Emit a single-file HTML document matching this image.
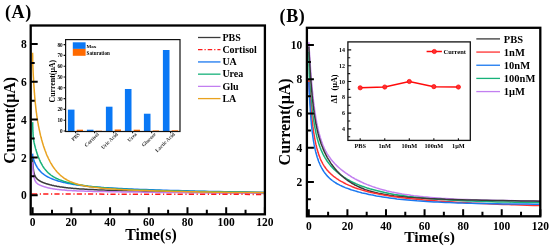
<!DOCTYPE html>
<html><head><meta charset="utf-8"><style>
html,body{margin:0;padding:0;background:#fff;width:550px;height:251px;overflow:hidden}
svg{display:block}
text{font-family:'Liberation Serif', 'DejaVu Serif', serif;font-weight:bold;fill:#000}
</style></head><body>
<svg width="550" height="251" viewBox="0 0 550 251">
<defs>
<clipPath id="clipA"><rect x="30.7" y="25.5" width="234.20" height="188.80"/></clipPath>
<clipPath id="clipB"><rect x="306.9" y="27.8" width="233.40" height="188.50"/></clipPath>
</defs>
<rect width="550" height="251" fill="#fff"/>
<g clip-path="url(#clipA)" fill="none" stroke-width="1.5">
<path d="M32.6,158.3 L32.7,158.7 L32.7,159.1 L32.7,159.5 L32.7,159.9 L32.7,160.3 L32.7,160.7 L32.8,161.1 L32.8,161.5 L32.8,161.9 L32.8,162.3 L32.8,162.7 L32.9,163.1 L32.9,163.4 L32.9,163.8 L32.9,164.2 L33.0,164.6 L33.0,164.9 L33.0,165.3 L33.0,165.6 L33.1,166.0 L33.1,166.3 L33.1,166.7 L33.1,167.0 L33.2,167.4 L33.2,167.7 L33.2,168.0 L33.3,168.3 L33.3,168.6 L33.3,169.0 L33.4,169.3 L33.4,169.6 L33.5,169.8 L33.5,170.1 L33.5,170.4 L33.6,170.7 L33.6,170.9 L33.7,171.2 L33.7,171.5 L33.7,171.7 L33.8,172.0 L33.8,172.2 L33.9,172.4 L33.9,172.7 L34.0,172.9 L34.0,173.1 L34.1,173.3 L34.2,173.6 L34.2,173.8 L34.3,174.0 L34.3,174.2 L34.4,174.4 L34.5,174.6 L34.5,174.8 L34.6,174.9 L34.7,175.1 L34.7,175.3 L34.8,175.5 L34.9,175.7 L35.0,175.8 L35.1,176.0 L35.1,176.2 L35.2,176.3 L35.3,176.5 L35.4,176.7 L35.5,176.8 L35.6,177.0 L35.7,177.2 L35.8,177.3 L35.9,177.5 L36.0,177.6 L36.1,177.8 L36.2,177.9 L36.3,178.1 L36.5,178.2 L36.6,178.4 L36.7,178.5 L36.8,178.6 L37.0,178.8 L37.1,178.9 L37.2,179.1 L37.4,179.2 L37.5,179.3 L37.7,179.5 L37.8,179.6 L38.0,179.7 L38.2,179.9 L38.3,180.0 L38.5,180.1 L38.7,180.2 L38.9,180.4 L39.1,180.5 L39.3,180.6 L39.5,180.7 L39.7,180.9 L39.9,181.0 L40.1,181.1 L40.3,181.2 L40.5,181.4 L40.8,181.5 L41.0,181.6 L41.3,181.7 L41.5,181.8 L41.8,182.0 L42.1,182.1 L42.3,182.2 L42.6,182.3 L42.9,182.5 L43.2,182.6 L43.5,182.7 L43.8,182.8 L44.2,182.9 L44.5,183.1 L44.9,183.2 L45.2,183.3 L45.6,183.5 L46.0,183.6 L46.3,183.7 L46.7,183.8 L47.1,184.0 L47.6,184.1 L48.0,184.2 L48.4,184.3 L48.9,184.5 L49.4,184.6 L49.8,184.7 L50.3,184.9 L50.8,185.0 L51.4,185.1 L51.9,185.3 L52.4,185.4 L53.0,185.5 L53.6,185.6 L54.2,185.8 L54.8,185.9 L55.4,186.0 L56.1,186.1 L56.7,186.3 L57.4,186.4 L58.1,186.5 L58.9,186.6 L59.6,186.8 L60.4,186.9 L61.1,187.0 L62.0,187.1 L62.8,187.2 L63.6,187.3 L64.5,187.5 L65.4,187.6 L66.3,187.7 L67.3,187.8 L68.3,187.9 L69.3,188.0 L70.3,188.1 L71.4,188.2 L72.5,188.3 L73.6,188.4 L74.7,188.5 L75.9,188.6 L77.1,188.7 L78.4,188.8 L79.7,188.9 L81.0,189.0 L82.3,189.0 L83.7,189.1 L85.2,189.2 L86.6,189.3 L88.2,189.4 L89.7,189.5 L91.3,189.5 L93.0,189.6 L94.6,189.7 L96.4,189.8 L98.2,189.9 L100.0,189.9 L101.9,190.0 L103.8,190.1 L105.8,190.2 L107.9,190.2 L110.0,190.3 L112.1,190.4 L114.4,190.5 L116.6,190.5 L119.0,190.6 L121.4,190.7 L123.9,190.7 L126.4,190.8 L129.0,190.9 L131.7,190.9 L134.5,191.0 L137.3,191.1 L140.3,191.2 L143.3,191.2 L146.3,191.3 L149.5,191.4 L152.8,191.4 L156.1,191.5 L159.6,191.6 L163.1,191.6 L166.7,191.7 L170.5,191.7 L174.3,191.8 L178.3,191.9 L182.3,191.9 L186.5,192.0 L190.8,192.1 L195.2,192.1 L199.7,192.2 L204.4,192.2 L209.1,192.3 L214.1,192.3 L219.1,192.4 L224.3,192.4 L229.6,192.5 L235.1,192.5 L240.8,192.6 L246.5,192.6 L252.5,192.7 L258.6,192.7 L264.9,192.8" stroke="#3a3a3a"/>
<path d="M32.6,162.1 L32.7,162.7 L32.7,163.2 L32.7,163.8 L32.7,164.3 L32.7,164.8 L32.7,165.3 L32.8,165.7 L32.8,166.2 L32.8,166.7 L32.8,167.1 L32.8,167.5 L32.9,167.9 L32.9,168.3 L32.9,168.7 L32.9,169.1 L33.0,169.5 L33.0,169.9 L33.0,170.2 L33.0,170.5 L33.1,170.9 L33.1,171.2 L33.1,171.5 L33.1,171.8 L33.2,172.1 L33.2,172.4 L33.2,172.7 L33.3,173.0 L33.3,173.3 L33.3,173.6 L33.4,173.8 L33.4,174.1 L33.5,174.3 L33.5,174.6 L33.5,174.9 L33.6,175.1 L33.6,175.4 L33.7,175.6 L33.7,175.8 L33.7,176.1 L33.8,176.3 L33.8,176.6 L33.9,176.8 L33.9,177.0 L34.0,177.2 L34.0,177.5 L34.1,177.7 L34.2,177.9 L34.2,178.1 L34.3,178.3 L34.3,178.6 L34.4,178.8 L34.5,179.0 L34.5,179.2 L34.6,179.4 L34.7,179.6 L34.7,179.8 L34.8,180.0 L34.9,180.2 L35.0,180.3 L35.1,180.5 L35.1,180.7 L35.2,180.9 L35.3,181.1 L35.4,181.2 L35.5,181.4 L35.6,181.6 L35.7,181.7 L35.8,181.9 L35.9,182.0 L36.0,182.2 L36.1,182.3 L36.2,182.5 L36.3,182.6 L36.5,182.7 L36.6,182.9 L36.7,183.0 L36.8,183.1 L37.0,183.2 L37.1,183.4 L37.2,183.5 L37.4,183.6 L37.5,183.7 L37.7,183.8 L37.8,183.9 L38.0,184.0 L38.2,184.2 L38.3,184.3 L38.5,184.4 L38.7,184.5 L38.9,184.6 L39.1,184.7 L39.3,184.8 L39.5,184.9 L39.7,185.0 L39.9,185.1 L40.1,185.2 L40.3,185.3 L40.5,185.4 L40.8,185.5 L41.0,185.6 L41.3,185.7 L41.5,185.8 L41.8,185.9 L42.1,186.0 L42.3,186.1 L42.6,186.2 L42.9,186.3 L43.2,186.4 L43.5,186.5 L43.8,186.6 L44.2,186.7 L44.5,186.8 L44.9,186.9 L45.2,187.0 L45.6,187.1 L46.0,187.2 L46.3,187.3 L46.7,187.4 L47.1,187.6 L47.6,187.7 L48.0,187.8 L48.4,187.9 L48.9,188.0 L49.4,188.1 L49.8,188.2 L50.3,188.3 L50.8,188.4 L51.4,188.5 L51.9,188.6 L52.4,188.7 L53.0,188.8 L53.6,188.9 L54.2,189.0 L54.8,189.1 L55.4,189.2 L56.1,189.2 L56.7,189.3 L57.4,189.4 L58.1,189.5 L58.9,189.6 L59.6,189.7 L60.4,189.8 L61.1,189.8 L62.0,189.9 L62.8,190.0 L63.6,190.1 L64.5,190.1 L65.4,190.2 L66.3,190.3 L67.3,190.4 L68.3,190.4 L69.3,190.5 L70.3,190.5 L71.4,190.6 L72.5,190.7 L73.6,190.7 L74.7,190.8 L75.9,190.8 L77.1,190.9 L78.4,190.9 L79.7,191.0 L81.0,191.0 L82.3,191.1 L83.7,191.1 L85.2,191.2 L86.6,191.2 L88.2,191.2 L89.7,191.3 L91.3,191.3 L93.0,191.4 L94.6,191.4 L96.4,191.4 L98.2,191.5 L100.0,191.5 L101.9,191.5 L103.8,191.6 L105.8,191.6 L107.9,191.7 L110.0,191.7 L112.1,191.7 L114.4,191.8 L116.6,191.8 L119.0,191.8 L121.4,191.9 L123.9,191.9 L126.4,191.9 L129.0,192.0 L131.7,192.0 L134.5,192.0 L137.3,192.1 L140.3,192.1 L143.3,192.2 L146.3,192.2 L149.5,192.2 L152.8,192.3 L156.1,192.3 L159.6,192.4 L163.1,192.4 L166.7,192.4 L170.5,192.5 L174.3,192.5 L178.3,192.6 L182.3,192.6 L186.5,192.7 L190.8,192.7 L195.2,192.7 L199.7,192.8 L204.4,192.8 L209.1,192.9 L214.1,192.9 L219.1,193.0 L224.3,193.0 L229.6,193.1 L235.1,193.1 L240.8,193.2 L246.5,193.2 L252.5,193.3 L258.6,193.3 L264.9,193.4" stroke="#c27ff0"/>
<path d="M32.6,153.6 L32.7,154.7 L32.7,155.5 L32.7,156.0 L32.7,156.3 L32.7,156.6 L32.7,156.8 L32.8,156.9 L32.8,157.1 L32.8,157.1 L32.8,157.2 L32.8,157.3 L32.9,157.4 L32.9,157.5 L32.9,157.5 L32.9,157.6 L33.0,157.7 L33.0,157.8 L33.0,157.8 L33.0,157.9 L33.1,158.0 L33.1,158.1 L33.1,158.2 L33.1,158.3 L33.2,158.4 L33.2,158.5 L33.2,158.6 L33.3,158.7 L33.3,158.8 L33.3,158.9 L33.4,159.0 L33.4,159.1 L33.5,159.2 L33.5,159.3 L33.5,159.4 L33.6,159.5 L33.6,159.6 L33.7,159.7 L33.7,159.9 L33.7,160.0 L33.8,160.1 L33.8,160.3 L33.9,160.4 L33.9,160.5 L34.0,160.7 L34.0,160.8 L34.1,160.9 L34.2,161.1 L34.2,161.2 L34.3,161.4 L34.3,161.5 L34.4,161.7 L34.5,161.9 L34.5,162.0 L34.6,162.2 L34.7,162.3 L34.7,162.5 L34.8,162.7 L34.9,162.9 L35.0,163.0 L35.1,163.2 L35.1,163.4 L35.2,163.6 L35.3,163.8 L35.4,164.0 L35.5,164.2 L35.6,164.4 L35.7,164.6 L35.8,164.8 L35.9,165.0 L36.0,165.2 L36.1,165.4 L36.2,165.6 L36.3,165.8 L36.5,166.0 L36.6,166.2 L36.7,166.4 L36.8,166.7 L37.0,166.9 L37.1,167.1 L37.2,167.3 L37.4,167.6 L37.5,167.8 L37.7,168.0 L37.8,168.2 L38.0,168.5 L38.2,168.7 L38.3,168.9 L38.5,169.2 L38.7,169.4 L38.9,169.6 L39.1,169.9 L39.3,170.1 L39.5,170.4 L39.7,170.6 L39.9,170.8 L40.1,171.1 L40.3,171.3 L40.5,171.6 L40.8,171.8 L41.0,172.0 L41.3,172.3 L41.5,172.5 L41.8,172.8 L42.1,173.0 L42.3,173.2 L42.6,173.5 L42.9,173.7 L43.2,174.0 L43.5,174.2 L43.8,174.4 L44.2,174.7 L44.5,174.9 L44.9,175.1 L45.2,175.4 L45.6,175.6 L46.0,175.8 L46.3,176.1 L46.7,176.3 L47.1,176.5 L47.6,176.8 L48.0,177.0 L48.4,177.2 L48.9,177.4 L49.4,177.7 L49.8,177.9 L50.3,178.1 L50.8,178.3 L51.4,178.6 L51.9,178.8 L52.4,179.0 L53.0,179.2 L53.6,179.4 L54.2,179.7 L54.8,179.9 L55.4,180.1 L56.1,180.3 L56.7,180.5 L57.4,180.7 L58.1,181.0 L58.9,181.2 L59.6,181.4 L60.4,181.6 L61.1,181.8 L62.0,182.0 L62.8,182.2 L63.6,182.4 L64.5,182.6 L65.4,182.8 L66.3,183.0 L67.3,183.2 L68.3,183.4 L69.3,183.6 L70.3,183.8 L71.4,184.0 L72.5,184.2 L73.6,184.4 L74.7,184.6 L75.9,184.7 L77.1,184.9 L78.4,185.1 L79.7,185.3 L81.0,185.4 L82.3,185.6 L83.7,185.8 L85.2,185.9 L86.6,186.1 L88.2,186.3 L89.7,186.4 L91.3,186.6 L93.0,186.7 L94.6,186.9 L96.4,187.0 L98.2,187.2 L100.0,187.3 L101.9,187.4 L103.8,187.6 L105.8,187.7 L107.9,187.8 L110.0,188.0 L112.1,188.1 L114.4,188.2 L116.6,188.3 L119.0,188.5 L121.4,188.6 L123.9,188.7 L126.4,188.8 L129.0,188.9 L131.7,189.0 L134.5,189.2 L137.3,189.3 L140.3,189.4 L143.3,189.5 L146.3,189.6 L149.5,189.7 L152.8,189.8 L156.1,190.0 L159.6,190.1 L163.1,190.2 L166.7,190.3 L170.5,190.4 L174.3,190.5 L178.3,190.6 L182.3,190.7 L186.5,190.8 L190.8,190.9 L195.2,191.1 L199.7,191.2 L204.4,191.3 L209.1,191.4 L214.1,191.5 L219.1,191.6 L224.3,191.7 L229.6,191.8 L235.1,191.9 L240.8,192.0 L246.5,192.1 L252.5,192.2 L258.6,192.3 L264.9,192.4" stroke="#1a78f0"/>
<path d="M32.6,122.1 L32.7,122.9 L32.7,123.6 L32.7,124.4 L32.7,125.1 L32.7,125.8 L32.7,126.4 L32.8,127.1 L32.8,127.8 L32.8,128.4 L32.8,129.0 L32.8,129.6 L32.9,130.2 L32.9,130.8 L32.9,131.3 L32.9,131.8 L33.0,132.4 L33.0,132.9 L33.0,133.3 L33.0,133.8 L33.1,134.3 L33.1,134.7 L33.1,135.1 L33.1,135.5 L33.2,135.9 L33.2,136.3 L33.2,136.7 L33.3,137.0 L33.3,137.4 L33.3,137.7 L33.4,138.0 L33.4,138.3 L33.5,138.6 L33.5,138.9 L33.5,139.2 L33.6,139.5 L33.6,139.8 L33.7,140.1 L33.7,140.4 L33.7,140.6 L33.8,140.9 L33.8,141.2 L33.9,141.4 L33.9,141.7 L34.0,141.9 L34.0,142.2 L34.1,142.5 L34.2,142.7 L34.2,143.0 L34.3,143.3 L34.3,143.6 L34.4,143.8 L34.5,144.1 L34.5,144.4 L34.6,144.7 L34.7,145.0 L34.7,145.3 L34.8,145.6 L34.9,145.9 L35.0,146.2 L35.1,146.5 L35.1,146.8 L35.2,147.1 L35.3,147.5 L35.4,147.8 L35.5,148.2 L35.6,148.5 L35.7,148.9 L35.8,149.2 L35.9,149.6 L36.0,149.9 L36.1,150.3 L36.2,150.7 L36.3,151.1 L36.5,151.5 L36.6,151.9 L36.7,152.3 L36.8,152.7 L37.0,153.1 L37.1,153.5 L37.2,153.9 L37.4,154.3 L37.5,154.8 L37.7,155.2 L37.8,155.6 L38.0,156.1 L38.2,156.5 L38.3,157.0 L38.5,157.4 L38.7,157.9 L38.9,158.3 L39.1,158.8 L39.3,159.3 L39.5,159.7 L39.7,160.2 L39.9,160.7 L40.1,161.1 L40.3,161.6 L40.5,162.1 L40.8,162.5 L41.0,163.0 L41.3,163.5 L41.5,164.0 L41.8,164.4 L42.1,164.9 L42.3,165.4 L42.6,165.9 L42.9,166.3 L43.2,166.8 L43.5,167.3 L43.8,167.7 L44.2,168.2 L44.5,168.6 L44.9,169.1 L45.2,169.6 L45.6,170.0 L46.0,170.4 L46.3,170.9 L46.7,171.3 L47.1,171.7 L47.6,172.2 L48.0,172.6 L48.4,173.0 L48.9,173.4 L49.4,173.8 L49.8,174.2 L50.3,174.6 L50.8,175.0 L51.4,175.4 L51.9,175.7 L52.4,176.1 L53.0,176.5 L53.6,176.8 L54.2,177.2 L54.8,177.5 L55.4,177.9 L56.1,178.2 L56.7,178.5 L57.4,178.8 L58.1,179.1 L58.9,179.5 L59.6,179.8 L60.4,180.1 L61.1,180.3 L62.0,180.6 L62.8,180.9 L63.6,181.2 L64.5,181.5 L65.4,181.7 L66.3,182.0 L67.3,182.3 L68.3,182.5 L69.3,182.8 L70.3,183.0 L71.4,183.3 L72.5,183.5 L73.6,183.7 L74.7,184.0 L75.9,184.2 L77.1,184.4 L78.4,184.7 L79.7,184.9 L81.0,185.1 L82.3,185.3 L83.7,185.5 L85.2,185.7 L86.6,185.9 L88.2,186.2 L89.7,186.4 L91.3,186.5 L93.0,186.7 L94.6,186.9 L96.4,187.1 L98.2,187.3 L100.0,187.5 L101.9,187.7 L103.8,187.8 L105.8,188.0 L107.9,188.2 L110.0,188.3 L112.1,188.5 L114.4,188.6 L116.6,188.8 L119.0,188.9 L121.4,189.1 L123.9,189.2 L126.4,189.3 L129.0,189.5 L131.7,189.6 L134.5,189.7 L137.3,189.9 L140.3,190.0 L143.3,190.1 L146.3,190.2 L149.5,190.3 L152.8,190.4 L156.1,190.5 L159.6,190.6 L163.1,190.7 L166.7,190.8 L170.5,190.9 L174.3,191.0 L178.3,191.1 L182.3,191.2 L186.5,191.3 L190.8,191.4 L195.2,191.4 L199.7,191.5 L204.4,191.6 L209.1,191.7 L214.1,191.8 L219.1,191.8 L224.3,191.9 L229.6,192.0 L235.1,192.1 L240.8,192.1 L246.5,192.2 L252.5,192.3 L258.6,192.4 L264.9,192.4" stroke="#17b27a"/>
<path d="M32.6,52.7 L32.7,56.0 L32.7,58.3 L32.7,60.0 L32.7,61.3 L32.7,62.3 L32.7,63.1 L32.8,63.7 L32.8,64.3 L32.8,64.9 L32.8,65.4 L32.8,65.9 L32.9,66.4 L32.9,66.9 L32.9,67.4 L32.9,67.9 L33.0,68.4 L33.0,69.0 L33.0,69.5 L33.0,70.0 L33.1,70.6 L33.1,71.2 L33.1,71.7 L33.1,72.3 L33.2,72.9 L33.2,73.5 L33.2,74.2 L33.3,74.8 L33.3,75.4 L33.3,76.1 L33.4,76.7 L33.4,77.4 L33.5,78.1 L33.5,78.7 L33.5,79.4 L33.6,80.1 L33.6,80.9 L33.7,81.6 L33.7,82.3 L33.7,83.1 L33.8,83.8 L33.8,84.6 L33.9,85.3 L33.9,86.1 L34.0,86.9 L34.0,87.7 L34.1,88.5 L34.2,89.3 L34.2,90.1 L34.3,90.9 L34.3,91.7 L34.4,92.6 L34.5,93.4 L34.5,94.3 L34.6,95.1 L34.7,96.0 L34.7,96.8 L34.8,97.7 L34.9,98.6 L35.0,99.5 L35.1,100.3 L35.1,101.2 L35.2,102.1 L35.3,103.0 L35.4,103.9 L35.5,104.8 L35.6,105.7 L35.7,106.6 L35.8,107.5 L35.9,108.5 L36.0,109.4 L36.1,110.3 L36.2,111.2 L36.3,112.1 L36.5,113.0 L36.6,114.0 L36.7,114.9 L36.8,115.8 L37.0,116.7 L37.1,117.6 L37.2,118.6 L37.4,119.5 L37.5,120.4 L37.7,121.4 L37.8,122.3 L38.0,123.2 L38.2,124.1 L38.3,125.1 L38.5,126.0 L38.7,126.9 L38.9,127.9 L39.1,128.8 L39.3,129.8 L39.5,130.7 L39.7,131.6 L39.9,132.6 L40.1,133.5 L40.3,134.5 L40.5,135.4 L40.8,136.4 L41.0,137.3 L41.3,138.3 L41.5,139.2 L41.8,140.2 L42.1,141.2 L42.3,142.1 L42.6,143.1 L42.9,144.0 L43.2,145.0 L43.5,146.0 L43.8,146.9 L44.2,147.9 L44.5,148.9 L44.9,149.9 L45.2,150.8 L45.6,151.8 L46.0,152.8 L46.3,153.7 L46.7,154.7 L47.1,155.6 L47.6,156.6 L48.0,157.5 L48.4,158.5 L48.9,159.4 L49.4,160.3 L49.8,161.3 L50.3,162.2 L50.8,163.1 L51.4,164.0 L51.9,164.9 L52.4,165.8 L53.0,166.6 L53.6,167.5 L54.2,168.3 L54.8,169.1 L55.4,169.9 L56.1,170.7 L56.7,171.5 L57.4,172.3 L58.1,173.0 L58.9,173.8 L59.6,174.5 L60.4,175.2 L61.1,175.9 L62.0,176.5 L62.8,177.2 L63.6,177.8 L64.5,178.4 L65.4,179.0 L66.3,179.5 L67.3,180.1 L68.3,180.6 L69.3,181.1 L70.3,181.6 L71.4,182.0 L72.5,182.5 L73.6,182.9 L74.7,183.3 L75.9,183.7 L77.1,184.1 L78.4,184.4 L79.7,184.8 L81.0,185.1 L82.3,185.4 L83.7,185.7 L85.2,186.0 L86.6,186.3 L88.2,186.5 L89.7,186.8 L91.3,187.0 L93.0,187.2 L94.6,187.4 L96.4,187.6 L98.2,187.8 L100.0,188.0 L101.9,188.2 L103.8,188.4 L105.8,188.5 L107.9,188.7 L110.0,188.8 L112.1,189.0 L114.4,189.1 L116.6,189.3 L119.0,189.4 L121.4,189.5 L123.9,189.7 L126.4,189.8 L129.0,189.9 L131.7,190.0 L134.5,190.2 L137.3,190.3 L140.3,190.4 L143.3,190.5 L146.3,190.6 L149.5,190.7 L152.8,190.8 L156.1,190.9 L159.6,191.0 L163.1,191.1 L166.7,191.2 L170.5,191.3 L174.3,191.4 L178.3,191.5 L182.3,191.6 L186.5,191.7 L190.8,191.8 L195.2,191.8 L199.7,191.9 L204.4,192.0 L209.1,192.1 L214.1,192.2 L219.1,192.2 L224.3,192.3 L229.6,192.4 L235.1,192.4 L240.8,192.5 L246.5,192.5 L252.5,192.6 L258.6,192.6 L264.9,192.7" stroke="#e9a21f"/>
<path d="M31.5,193.9 H37.2" stroke="#ff1a1a" stroke-width="1.5"/>
<path d="M39.8,193.9 L120,194.2 L265,194.4" stroke="#ff1a1a" stroke-width="1.5" stroke-dasharray="1.2,2.2,5.2,2.6"/>
</g>
<rect x="30.7" y="25.5" width="234.20" height="188.80" fill="none" stroke="#000" stroke-width="2.3"/>
<path d="M30.7,195.20 h7 M30.7,176.30 h4 M30.7,157.40 h7 M30.7,138.50 h4 M30.7,119.60 h7 M30.7,100.70 h4 M30.7,81.80 h7 M30.7,62.90 h4 M30.7,44.00 h7 M32.64,214.3 v-7 M52.00,214.3 v-4.5 M71.35,214.3 v-7 M90.70,214.3 v-4.5 M110.06,214.3 v-7 M129.42,214.3 v-4.5 M148.77,214.3 v-7 M168.12,214.3 v-4.5 M187.48,214.3 v-7 M206.83,214.3 v-4.5 M226.19,214.3 v-7 M245.55,214.3 v-4.5 M264.90,214.3 v-7" stroke="#000" stroke-width="2" fill="none"/>
<text x="26.80" y="199.30" font-size="11.5" text-anchor="end" >0</text>
<text x="26.80" y="161.50" font-size="11.5" text-anchor="end" >2</text>
<text x="26.80" y="123.70" font-size="11.5" text-anchor="end" >4</text>
<text x="26.80" y="85.90" font-size="11.5" text-anchor="end" >6</text>
<text x="26.80" y="48.10" font-size="11.5" text-anchor="end" >8</text>
<text x="32.64" y="226.20" font-size="11.5" text-anchor="middle" >0</text>
<text x="71.35" y="226.20" font-size="11.5" text-anchor="middle" >20</text>
<text x="110.06" y="226.20" font-size="11.5" text-anchor="middle" >40</text>
<text x="148.77" y="226.20" font-size="11.5" text-anchor="middle" >60</text>
<text x="187.48" y="226.20" font-size="11.5" text-anchor="middle" >80</text>
<text x="226.19" y="226.20" font-size="11.5" text-anchor="middle" >100</text>
<text x="264.90" y="226.20" font-size="11.5" text-anchor="middle" >120</text>
<text x="151.00" y="239.70" font-size="15.8" text-anchor="middle" >Time(s)</text>
<text x="0" y="0" font-size="16" text-anchor="middle" transform="translate(14.9,120.3) rotate(-90)">Current(μA)</text>
<text x="18.40" y="17.50" font-size="18" text-anchor="middle" letter-spacing="0.6">(A)</text>
<path d="M198,37.50 H220.5" stroke="#3a3a3a" stroke-width="1.3"/>
<text x="222.40" y="40.80" font-size="10" text-anchor="start" >PBS</text>
<path d="M198,49.72 H220.5" stroke="#ff1a1a" stroke-width="1.3" stroke-dasharray="4.5,2,1.2,2"/>
<text x="222.40" y="53.02" font-size="10" text-anchor="start" >Cortisol</text>
<path d="M198,61.94 H220.5" stroke="#1a78f0" stroke-width="1.3"/>
<text x="222.40" y="65.24" font-size="10" text-anchor="start" >UA</text>
<path d="M198,74.16 H220.5" stroke="#17b27a" stroke-width="1.3"/>
<text x="222.40" y="77.46" font-size="10" text-anchor="start" >Urea</text>
<path d="M198,86.38 H220.5" stroke="#c27ff0" stroke-width="1.3"/>
<text x="222.40" y="89.68" font-size="10" text-anchor="start" >Glu</text>
<path d="M198,98.60 H220.5" stroke="#e9a21f" stroke-width="1.3"/>
<text x="222.40" y="101.90" font-size="10" text-anchor="start" >LA</text>
<rect x="67.90" y="109.62" width="6.6" height="21.38" fill="#0a78f5"/>
<rect x="76.70" y="129.70" width="6.3" height="1.30" fill="#ff6a00"/>
<text x="0" y="0" font-size="5.2" text-anchor="end" fill="#333" style="fill:#333" transform="translate(80.20,134.60) rotate(-45)">PBS</text>
<rect x="86.90" y="129.70" width="6.6" height="1.30" fill="#0a78f5"/>
<rect x="95.70" y="130.68" width="6.3" height="0.32" fill="#ff6a00"/>
<text x="0" y="0" font-size="5.2" text-anchor="end" fill="#333" style="fill:#333" transform="translate(99.20,134.60) rotate(-45)">Cortisol</text>
<rect x="105.90" y="106.70" width="6.6" height="24.30" fill="#0a78f5"/>
<rect x="114.70" y="129.49" width="6.3" height="1.51" fill="#ff6a00"/>
<text x="0" y="0" font-size="5.2" text-anchor="end" fill="#333" style="fill:#333" transform="translate(118.20,134.60) rotate(-45)">Uric Acid</text>
<rect x="124.90" y="88.99" width="6.6" height="42.01" fill="#0a78f5"/>
<rect x="133.70" y="129.70" width="6.3" height="1.30" fill="#ff6a00"/>
<text x="0" y="0" font-size="5.2" text-anchor="end" fill="#333" style="fill:#333" transform="translate(137.20,134.60) rotate(-45)">Urea</text>
<rect x="143.90" y="113.72" width="6.6" height="17.28" fill="#0a78f5"/>
<rect x="152.70" y="130.46" width="6.3" height="0.54" fill="#ff6a00"/>
<text x="0" y="0" font-size="5.2" text-anchor="end" fill="#333" style="fill:#333" transform="translate(156.20,134.60) rotate(-45)">Glucose</text>
<rect x="162.90" y="50.00" width="6.6" height="81.00" fill="#0a78f5"/>
<rect x="171.70" y="130.35" width="6.3" height="0.65" fill="#ff6a00"/>
<text x="0" y="0" font-size="5.2" text-anchor="end" fill="#333" style="fill:#333" transform="translate(175.20,134.60) rotate(-45)">Lactic Acid</text>
<rect x="65.6" y="39.6" width="114.40" height="91.90" fill="none" stroke="#111" stroke-width="1.2"/>
<path d="M65.6,131.00 h-2 M65.6,120.20 h-2 M65.6,109.40 h-2 M65.6,98.60 h-2 M65.6,87.80 h-2 M65.6,77.00 h-2 M65.6,66.20 h-2 M65.6,55.40 h-2 M65.6,44.60 h-2 M75.60,131.5 v1.8 M94.60,131.5 v1.8 M113.60,131.5 v1.8 M132.60,131.5 v1.8 M151.60,131.5 v1.8 M170.60,131.5 v1.8" stroke="#111" stroke-width="1.1" fill="none"/>
<text x="62.60" y="132.90" font-size="5.2" text-anchor="end" >0</text>
<text x="62.60" y="122.10" font-size="5.2" text-anchor="end" >10</text>
<text x="62.60" y="111.30" font-size="5.2" text-anchor="end" >20</text>
<text x="62.60" y="100.50" font-size="5.2" text-anchor="end" >30</text>
<text x="62.60" y="89.70" font-size="5.2" text-anchor="end" >40</text>
<text x="62.60" y="78.90" font-size="5.2" text-anchor="end" >50</text>
<text x="62.60" y="68.10" font-size="5.2" text-anchor="end" >60</text>
<text x="62.60" y="57.30" font-size="5.2" text-anchor="end" >70</text>
<text x="62.60" y="46.50" font-size="5.2" text-anchor="end" >80</text>
<text x="0" y="0" font-size="7.85" text-anchor="middle" transform="translate(54.6,81.2) rotate(-90)">Current(μA)</text>
<rect x="72.8" y="42.3" width="12.8" height="6.6" fill="#0a78f5"/>
<rect x="72.8" y="48.9" width="12.8" height="6.9" fill="#ff6a00"/>
<text x="86.60" y="47.60" font-size="5.0" text-anchor="start" >Max</text>
<text x="86.60" y="54.70" font-size="5.1" text-anchor="start" >Saturation</text>
<g clip-path="url(#clipB)" fill="none" stroke-width="1.5">
<path d="M308.8,42.3 L308.8,42.5 L308.9,42.7 L308.9,42.9 L308.9,43.1 L308.9,43.3 L308.9,43.6 L308.9,43.8 L308.9,44.1 L308.9,44.3 L309.0,44.6 L309.0,44.9 L309.0,45.1 L309.0,45.4 L309.0,45.7 L309.0,46.0 L309.1,46.3 L309.1,46.6 L309.1,47.0 L309.1,47.3 L309.1,47.6 L309.2,48.0 L309.2,48.3 L309.2,48.7 L309.2,49.1 L309.2,49.5 L309.3,49.9 L309.3,50.3 L309.3,50.7 L309.3,51.1 L309.4,51.6 L309.4,52.0 L309.4,52.5 L309.5,52.9 L309.5,53.4 L309.5,53.9 L309.5,54.4 L309.6,54.9 L309.6,55.5 L309.6,56.0 L309.7,56.6 L309.7,57.2 L309.8,57.7 L309.8,58.3 L309.8,59.0 L309.9,59.6 L309.9,60.2 L310.0,60.9 L310.0,61.5 L310.1,62.2 L310.1,62.9 L310.2,63.6 L310.2,64.4 L310.3,65.1 L310.3,65.9 L310.4,66.6 L310.4,67.4 L310.5,68.2 L310.5,69.1 L310.6,69.9 L310.7,70.8 L310.7,71.6 L310.8,72.5 L310.9,73.4 L310.9,74.3 L311.0,75.3 L311.1,76.2 L311.2,77.2 L311.3,78.2 L311.3,79.2 L311.4,80.2 L311.5,81.2 L311.6,82.3 L311.7,83.3 L311.8,84.4 L311.9,85.5 L312.0,86.6 L312.1,87.7 L312.2,88.9 L312.3,90.0 L312.4,91.2 L312.6,92.3 L312.7,93.5 L312.8,94.7 L312.9,95.9 L313.1,97.1 L313.2,98.4 L313.3,99.6 L313.5,100.8 L313.6,102.1 L313.8,103.4 L314.0,104.6 L314.1,105.9 L314.3,107.2 L314.5,108.5 L314.6,109.8 L314.8,111.1 L315.0,112.3 L315.2,113.6 L315.4,114.9 L315.6,116.2 L315.8,117.5 L316.0,118.8 L316.3,120.1 L316.5,121.4 L316.7,122.7 L317.0,123.9 L317.2,125.2 L317.5,126.5 L317.8,127.7 L318.0,128.9 L318.3,130.2 L318.6,131.4 L318.9,132.6 L319.2,133.8 L319.6,135.0 L319.9,136.2 L320.2,137.3 L320.6,138.5 L320.9,139.6 L321.3,140.7 L321.7,141.8 L322.1,142.9 L322.5,143.9 L322.9,145.0 L323.3,146.0 L323.8,147.1 L324.2,148.1 L324.7,149.1 L325.2,150.0 L325.7,151.0 L326.2,151.9 L326.7,152.9 L327.2,153.8 L327.8,154.7 L328.4,155.6 L329.0,156.5 L329.6,157.3 L330.2,158.2 L330.8,159.1 L331.5,159.9 L332.2,160.7 L332.9,161.6 L333.6,162.4 L334.4,163.2 L335.1,164.0 L335.9,164.8 L336.7,165.6 L337.6,166.4 L338.4,167.2 L339.3,168.0 L340.2,168.8 L341.2,169.6 L342.2,170.3 L343.2,171.1 L344.2,171.9 L345.2,172.7 L346.3,173.4 L347.5,174.2 L348.6,175.0 L349.8,175.7 L351.0,176.5 L352.3,177.3 L353.6,178.0 L354.9,178.8 L356.3,179.5 L357.7,180.3 L359.2,181.0 L360.7,181.7 L362.2,182.4 L363.8,183.2 L365.5,183.9 L367.2,184.6 L368.9,185.2 L370.7,185.9 L372.6,186.6 L374.5,187.2 L376.4,187.9 L378.4,188.5 L380.5,189.1 L382.6,189.7 L384.8,190.3 L387.1,190.9 L389.4,191.4 L391.8,192.0 L394.3,192.5 L396.9,193.0 L399.5,193.5 L402.2,194.0 L405.0,194.4 L407.8,194.8 L410.8,195.3 L413.8,195.7 L416.9,196.0 L420.1,196.4 L423.4,196.8 L426.9,197.1 L430.4,197.4 L434.0,197.7 L437.7,198.0 L441.5,198.3 L445.5,198.5 L449.5,198.7 L453.7,199.0 L458.0,199.2 L462.5,199.4 L467.0,199.5 L471.7,199.7 L476.6,199.9 L481.6,200.0 L486.7,200.2 L492.0,200.3 L497.4,200.4 L503.0,200.5 L508.8,200.6 L514.7,200.7 L520.9,200.8 L527.1,200.9 L533.6,201.0 L540.3,201.1" stroke="#c27ff0"/>
<path d="M308.8,51.8 L308.8,52.8 L308.9,53.9 L308.9,54.9 L308.9,55.9 L308.9,56.9 L308.9,57.9 L308.9,58.8 L308.9,59.8 L308.9,60.7 L309.0,61.6 L309.0,62.5 L309.0,63.4 L309.0,64.3 L309.0,65.2 L309.0,66.0 L309.1,66.8 L309.1,67.6 L309.1,68.4 L309.1,69.2 L309.1,70.0 L309.2,70.7 L309.2,71.4 L309.2,72.1 L309.2,72.8 L309.2,73.5 L309.3,74.2 L309.3,74.8 L309.3,75.5 L309.3,76.1 L309.4,76.7 L309.4,77.3 L309.4,77.9 L309.5,78.5 L309.5,79.1 L309.5,79.7 L309.5,80.2 L309.6,80.8 L309.6,81.4 L309.6,82.0 L309.7,82.5 L309.7,83.1 L309.8,83.6 L309.8,84.2 L309.8,84.8 L309.9,85.4 L309.9,85.9 L310.0,86.5 L310.0,87.1 L310.1,87.7 L310.1,88.3 L310.2,88.9 L310.2,89.6 L310.3,90.2 L310.3,90.8 L310.4,91.5 L310.4,92.1 L310.5,92.8 L310.5,93.5 L310.6,94.2 L310.7,94.9 L310.7,95.6 L310.8,96.3 L310.9,97.1 L310.9,97.8 L311.0,98.6 L311.1,99.4 L311.2,100.2 L311.3,101.0 L311.3,101.8 L311.4,102.6 L311.5,103.4 L311.6,104.3 L311.7,105.2 L311.8,106.0 L311.9,106.9 L312.0,107.8 L312.1,108.7 L312.2,109.6 L312.3,110.5 L312.4,111.5 L312.6,112.4 L312.7,113.3 L312.8,114.3 L312.9,115.2 L313.1,116.2 L313.2,117.2 L313.3,118.2 L313.5,119.2 L313.6,120.1 L313.8,121.1 L314.0,122.1 L314.1,123.1 L314.3,124.2 L314.5,125.2 L314.6,126.2 L314.8,127.2 L315.0,128.2 L315.2,129.2 L315.4,130.2 L315.6,131.2 L315.8,132.2 L316.0,133.2 L316.3,134.2 L316.5,135.2 L316.7,136.2 L317.0,137.2 L317.2,138.2 L317.5,139.2 L317.8,140.2 L318.0,141.1 L318.3,142.1 L318.6,143.1 L318.9,144.0 L319.2,144.9 L319.6,145.9 L319.9,146.8 L320.2,147.7 L320.6,148.6 L320.9,149.5 L321.3,150.4 L321.7,151.3 L322.1,152.2 L322.5,153.0 L322.9,153.9 L323.3,154.7 L323.8,155.6 L324.2,156.4 L324.7,157.2 L325.2,158.1 L325.7,158.9 L326.2,159.7 L326.7,160.5 L327.2,161.3 L327.8,162.0 L328.4,162.8 L329.0,163.6 L329.6,164.4 L330.2,165.1 L330.8,165.9 L331.5,166.6 L332.2,167.4 L332.9,168.1 L333.6,168.9 L334.4,169.6 L335.1,170.3 L335.9,171.0 L336.7,171.8 L337.6,172.5 L338.4,173.2 L339.3,173.9 L340.2,174.6 L341.2,175.3 L342.2,176.0 L343.2,176.7 L344.2,177.4 L345.2,178.0 L346.3,178.7 L347.5,179.4 L348.6,180.0 L349.8,180.7 L351.0,181.3 L352.3,182.0 L353.6,182.6 L354.9,183.2 L356.3,183.9 L357.7,184.5 L359.2,185.1 L360.7,185.7 L362.2,186.3 L363.8,186.8 L365.5,187.4 L367.2,188.0 L368.9,188.5 L370.7,189.1 L372.6,189.6 L374.5,190.1 L376.4,190.6 L378.4,191.1 L380.5,191.6 L382.6,192.1 L384.8,192.6 L387.1,193.0 L389.4,193.5 L391.8,193.9 L394.3,194.4 L396.9,194.8 L399.5,195.2 L402.2,195.6 L405.0,196.0 L407.8,196.4 L410.8,196.7 L413.8,197.1 L416.9,197.4 L420.1,197.8 L423.4,198.1 L426.9,198.4 L430.4,198.7 L434.0,199.0 L437.7,199.3 L441.5,199.5 L445.5,199.8 L449.5,200.0 L453.7,200.3 L458.0,200.5 L462.5,200.7 L467.0,200.9 L471.7,201.1 L476.6,201.3 L481.6,201.4 L486.7,201.6 L492.0,201.7 L497.4,201.9 L503.0,202.0 L508.8,202.1 L514.7,202.2 L520.9,202.3 L527.1,202.4 L533.6,202.5 L540.3,202.6" stroke="#17b27a"/>
<path d="M308.8,46.6 L308.8,46.8 L308.9,47.0 L308.9,47.3 L308.9,47.5 L308.9,47.8 L308.9,48.1 L308.9,48.3 L308.9,48.6 L308.9,48.9 L309.0,49.2 L309.0,49.5 L309.0,49.8 L309.0,50.2 L309.0,50.5 L309.0,50.8 L309.1,51.2 L309.1,51.5 L309.1,51.9 L309.1,52.3 L309.1,52.6 L309.2,53.0 L309.2,53.4 L309.2,53.9 L309.2,54.3 L309.2,54.7 L309.3,55.2 L309.3,55.6 L309.3,56.1 L309.3,56.6 L309.4,57.0 L309.4,57.5 L309.4,58.1 L309.5,58.6 L309.5,59.1 L309.5,59.7 L309.5,60.2 L309.6,60.8 L309.6,61.4 L309.6,62.0 L309.7,62.6 L309.7,63.2 L309.8,63.9 L309.8,64.5 L309.8,65.2 L309.9,65.8 L309.9,66.5 L310.0,67.2 L310.0,68.0 L310.1,68.7 L310.1,69.5 L310.2,70.2 L310.2,71.0 L310.3,71.8 L310.3,72.6 L310.4,73.4 L310.4,74.3 L310.5,75.1 L310.5,76.0 L310.6,76.9 L310.7,77.7 L310.7,78.7 L310.8,79.6 L310.9,80.5 L310.9,81.5 L311.0,82.4 L311.1,83.4 L311.2,84.4 L311.3,85.4 L311.3,86.4 L311.4,87.4 L311.5,88.5 L311.6,89.5 L311.7,90.6 L311.8,91.7 L311.9,92.8 L312.0,93.9 L312.1,95.0 L312.2,96.1 L312.3,97.2 L312.4,98.4 L312.6,99.5 L312.7,100.6 L312.8,101.8 L312.9,103.0 L313.1,104.1 L313.2,105.3 L313.3,106.5 L313.5,107.7 L313.6,108.8 L313.8,110.0 L314.0,111.2 L314.1,112.4 L314.3,113.6 L314.5,114.8 L314.6,116.0 L314.8,117.2 L315.0,118.4 L315.2,119.6 L315.4,120.7 L315.6,121.9 L315.8,123.1 L316.0,124.3 L316.3,125.4 L316.5,126.6 L316.7,127.7 L317.0,128.9 L317.2,130.0 L317.5,131.2 L317.8,132.3 L318.0,133.4 L318.3,134.5 L318.6,135.6 L318.9,136.7 L319.2,137.8 L319.6,138.9 L319.9,140.0 L320.2,141.1 L320.6,142.1 L320.9,143.2 L321.3,144.2 L321.7,145.3 L322.1,146.3 L322.5,147.3 L322.9,148.3 L323.3,149.4 L323.8,150.4 L324.2,151.4 L324.7,152.4 L325.2,153.4 L325.7,154.4 L326.2,155.3 L326.7,156.3 L327.2,157.3 L327.8,158.3 L328.4,159.3 L329.0,160.2 L329.6,161.2 L330.2,162.2 L330.8,163.1 L331.5,164.1 L332.2,165.0 L332.9,166.0 L333.6,166.9 L334.4,167.9 L335.1,168.8 L335.9,169.7 L336.7,170.7 L337.6,171.6 L338.4,172.5 L339.3,173.4 L340.2,174.3 L341.2,175.2 L342.2,176.1 L343.2,177.0 L344.2,177.8 L345.2,178.7 L346.3,179.5 L347.5,180.3 L348.6,181.1 L349.8,181.9 L351.0,182.7 L352.3,183.5 L353.6,184.2 L354.9,185.0 L356.3,185.7 L357.7,186.4 L359.2,187.0 L360.7,187.7 L362.2,188.3 L363.8,189.0 L365.5,189.6 L367.2,190.1 L368.9,190.7 L370.7,191.2 L372.6,191.8 L374.5,192.3 L376.4,192.7 L378.4,193.2 L380.5,193.6 L382.6,194.0 L384.8,194.4 L387.1,194.8 L389.4,195.2 L391.8,195.5 L394.3,195.9 L396.9,196.2 L399.5,196.5 L402.2,196.7 L405.0,197.0 L407.8,197.3 L410.8,197.5 L413.8,197.7 L416.9,197.9 L420.1,198.1 L423.4,198.3 L426.9,198.5 L430.4,198.7 L434.0,198.8 L437.7,199.0 L441.5,199.1 L445.5,199.3 L449.5,199.4 L453.7,199.5 L458.0,199.7 L462.5,199.8 L467.0,199.9 L471.7,200.0 L476.6,200.1 L481.6,200.2 L486.7,200.3 L492.0,200.4 L497.4,200.5 L503.0,200.6 L508.8,200.7 L514.7,200.8 L520.9,200.9 L527.1,201.0 L533.6,201.1 L540.3,201.2" stroke="#3a3a3a"/>
<path d="M308.8,79.2 L308.8,80.0 L308.9,80.6 L308.9,81.2 L308.9,81.6 L308.9,82.0 L308.9,82.3 L308.9,82.7 L308.9,82.9 L308.9,83.2 L309.0,83.5 L309.0,83.8 L309.0,84.0 L309.0,84.3 L309.0,84.5 L309.0,84.8 L309.1,85.1 L309.1,85.4 L309.1,85.6 L309.1,85.9 L309.1,86.2 L309.2,86.5 L309.2,86.9 L309.2,87.2 L309.2,87.5 L309.2,87.8 L309.3,88.2 L309.3,88.5 L309.3,88.9 L309.3,89.3 L309.4,89.7 L309.4,90.1 L309.4,90.5 L309.5,90.9 L309.5,91.3 L309.5,91.7 L309.5,92.2 L309.6,92.6 L309.6,93.1 L309.6,93.5 L309.7,94.0 L309.7,94.5 L309.8,95.0 L309.8,95.5 L309.8,96.1 L309.9,96.6 L309.9,97.1 L310.0,97.7 L310.0,98.3 L310.1,98.9 L310.1,99.5 L310.2,100.1 L310.2,100.7 L310.3,101.3 L310.3,102.0 L310.4,102.6 L310.4,103.3 L310.5,104.0 L310.5,104.7 L310.6,105.4 L310.7,106.1 L310.7,106.9 L310.8,107.6 L310.9,108.4 L310.9,109.1 L311.0,109.9 L311.1,110.7 L311.2,111.5 L311.3,112.3 L311.3,113.2 L311.4,114.0 L311.5,114.9 L311.6,115.7 L311.7,116.6 L311.8,117.5 L311.9,118.4 L312.0,119.3 L312.1,120.2 L312.2,121.1 L312.3,122.1 L312.4,123.0 L312.6,124.0 L312.7,124.9 L312.8,125.9 L312.9,126.9 L313.1,127.8 L313.2,128.8 L313.3,129.8 L313.5,130.8 L313.6,131.8 L313.8,132.8 L314.0,133.8 L314.1,134.8 L314.3,135.8 L314.5,136.8 L314.6,137.8 L314.8,138.8 L315.0,139.8 L315.2,140.8 L315.4,141.8 L315.6,142.8 L315.8,143.8 L316.0,144.7 L316.3,145.7 L316.5,146.7 L316.7,147.7 L317.0,148.6 L317.2,149.6 L317.5,150.5 L317.8,151.4 L318.0,152.3 L318.3,153.2 L318.6,154.1 L318.9,155.0 L319.2,155.9 L319.6,156.8 L319.9,157.6 L320.2,158.5 L320.6,159.3 L320.9,160.1 L321.3,160.9 L321.7,161.7 L322.1,162.4 L322.5,163.2 L322.9,164.0 L323.3,164.7 L323.8,165.4 L324.2,166.1 L324.7,166.8 L325.2,167.5 L325.7,168.2 L326.2,168.9 L326.7,169.5 L327.2,170.2 L327.8,170.8 L328.4,171.5 L329.0,172.1 L329.6,172.7 L330.2,173.3 L330.8,173.9 L331.5,174.5 L332.2,175.1 L332.9,175.7 L333.6,176.3 L334.4,176.9 L335.1,177.4 L335.9,178.0 L336.7,178.6 L337.6,179.1 L338.4,179.7 L339.3,180.3 L340.2,180.8 L341.2,181.4 L342.2,181.9 L343.2,182.4 L344.2,183.0 L345.2,183.5 L346.3,184.1 L347.5,184.6 L348.6,185.1 L349.8,185.6 L351.0,186.1 L352.3,186.7 L353.6,187.2 L354.9,187.7 L356.3,188.2 L357.7,188.7 L359.2,189.1 L360.7,189.6 L362.2,190.1 L363.8,190.6 L365.5,191.0 L367.2,191.5 L368.9,191.9 L370.7,192.4 L372.6,192.8 L374.5,193.2 L376.4,193.6 L378.4,194.0 L380.5,194.4 L382.6,194.8 L384.8,195.2 L387.1,195.6 L389.4,196.0 L391.8,196.3 L394.3,196.7 L396.9,197.1 L399.5,197.4 L402.2,197.7 L405.0,198.1 L407.8,198.4 L410.8,198.7 L413.8,199.0 L416.9,199.3 L420.1,199.6 L423.4,199.9 L426.9,200.2 L430.4,200.5 L434.0,200.8 L437.7,201.1 L441.5,201.3 L445.5,201.6 L449.5,201.8 L453.7,202.1 L458.0,202.4 L462.5,202.6 L467.0,202.8 L471.7,203.1 L476.6,203.3 L481.6,203.6 L486.7,203.8 L492.0,204.0 L497.4,204.2 L503.0,204.4 L508.8,204.6 L514.7,204.8 L520.9,205.0 L527.1,205.2 L533.6,205.4 L540.3,205.6" stroke="#ff3030"/>
<path d="M308.8,81.9 L308.8,82.2 L308.9,82.5 L308.9,82.8 L308.9,83.1 L308.9,83.4 L308.9,83.8 L308.9,84.1 L308.9,84.4 L308.9,84.8 L309.0,85.1 L309.0,85.5 L309.0,85.9 L309.0,86.2 L309.0,86.6 L309.0,87.0 L309.1,87.4 L309.1,87.8 L309.1,88.3 L309.1,88.7 L309.1,89.1 L309.2,89.6 L309.2,90.1 L309.2,90.5 L309.2,91.0 L309.2,91.5 L309.3,92.0 L309.3,92.5 L309.3,93.1 L309.3,93.6 L309.4,94.1 L309.4,94.7 L309.4,95.3 L309.5,95.9 L309.5,96.4 L309.5,97.0 L309.5,97.7 L309.6,98.3 L309.6,98.9 L309.6,99.6 L309.7,100.2 L309.7,100.9 L309.8,101.6 L309.8,102.2 L309.8,102.9 L309.9,103.7 L309.9,104.4 L310.0,105.1 L310.0,105.8 L310.1,106.6 L310.1,107.4 L310.2,108.1 L310.2,108.9 L310.3,109.7 L310.3,110.5 L310.4,111.3 L310.4,112.1 L310.5,112.9 L310.5,113.8 L310.6,114.6 L310.7,115.5 L310.7,116.3 L310.8,117.2 L310.9,118.1 L310.9,118.9 L311.0,119.8 L311.1,120.7 L311.2,121.6 L311.3,122.5 L311.3,123.4 L311.4,124.3 L311.5,125.2 L311.6,126.1 L311.7,127.0 L311.8,127.9 L311.9,128.9 L312.0,129.8 L312.1,130.7 L312.2,131.6 L312.3,132.5 L312.4,133.5 L312.6,134.4 L312.7,135.3 L312.8,136.2 L312.9,137.1 L313.1,138.1 L313.2,139.0 L313.3,139.9 L313.5,140.8 L313.6,141.7 L313.8,142.6 L314.0,143.5 L314.1,144.4 L314.3,145.3 L314.5,146.2 L314.6,147.0 L314.8,147.9 L315.0,148.8 L315.2,149.7 L315.4,150.5 L315.6,151.4 L315.8,152.2 L316.0,153.1 L316.3,153.9 L316.5,154.7 L316.7,155.6 L317.0,156.4 L317.2,157.2 L317.5,158.0 L317.8,158.8 L318.0,159.6 L318.3,160.4 L318.6,161.2 L318.9,162.0 L319.2,162.7 L319.6,163.5 L319.9,164.3 L320.2,165.0 L320.6,165.8 L320.9,166.5 L321.3,167.2 L321.7,168.0 L322.1,168.7 L322.5,169.4 L322.9,170.1 L323.3,170.8 L323.8,171.4 L324.2,172.1 L324.7,172.8 L325.2,173.4 L325.7,174.1 L326.2,174.7 L326.7,175.3 L327.2,175.9 L327.8,176.5 L328.4,177.1 L329.0,177.7 L329.6,178.3 L330.2,178.8 L330.8,179.4 L331.5,179.9 L332.2,180.5 L332.9,181.0 L333.6,181.5 L334.4,182.0 L335.1,182.5 L335.9,183.0 L336.7,183.5 L337.6,184.0 L338.4,184.4 L339.3,184.9 L340.2,185.4 L341.2,185.8 L342.2,186.3 L343.2,186.7 L344.2,187.1 L345.2,187.6 L346.3,188.0 L347.5,188.4 L348.6,188.8 L349.8,189.2 L351.0,189.7 L352.3,190.1 L353.6,190.5 L354.9,190.9 L356.3,191.3 L357.7,191.7 L359.2,192.1 L360.7,192.5 L362.2,192.9 L363.8,193.2 L365.5,193.6 L367.2,194.0 L368.9,194.4 L370.7,194.8 L372.6,195.1 L374.5,195.5 L376.4,195.9 L378.4,196.2 L380.5,196.6 L382.6,196.9 L384.8,197.2 L387.1,197.6 L389.4,197.9 L391.8,198.2 L394.3,198.5 L396.9,198.9 L399.5,199.2 L402.2,199.4 L405.0,199.7 L407.8,200.0 L410.8,200.3 L413.8,200.5 L416.9,200.8 L420.1,201.0 L423.4,201.2 L426.9,201.5 L430.4,201.7 L434.0,201.9 L437.7,202.1 L441.5,202.3 L445.5,202.4 L449.5,202.6 L453.7,202.8 L458.0,202.9 L462.5,203.1 L467.0,203.2 L471.7,203.3 L476.6,203.4 L481.6,203.5 L486.7,203.6 L492.0,203.7 L497.4,203.8 L503.0,203.9 L508.8,203.9 L514.7,204.0 L520.9,204.1 L527.1,204.1 L533.6,204.2 L540.3,204.2" stroke="#1a78f0"/>
</g>
<rect x="306.9" y="27.8" width="233.40" height="188.50" fill="none" stroke="#000" stroke-width="2.3"/>
<path d="M306.9,199.16 h4 M306.9,182.03 h7 M306.9,164.89 h4 M306.9,147.76 h7 M306.9,130.62 h4 M306.9,113.48 h7 M306.9,96.35 h4 M306.9,79.21 h7 M306.9,62.08 h4 M306.9,44.94 h7 M308.83,216.3 v-7 M328.12,216.3 v-4.5 M347.41,216.3 v-7 M366.70,216.3 v-4.5 M385.99,216.3 v-7 M405.28,216.3 v-4.5 M424.57,216.3 v-7 M443.86,216.3 v-4.5 M463.15,216.3 v-7 M482.44,216.3 v-4.5 M501.73,216.3 v-7 M521.02,216.3 v-4.5 M540.31,216.3 v-7" stroke="#000" stroke-width="2" fill="none"/>
<text x="302.30" y="185.93" font-size="11.5" text-anchor="end" >2</text>
<text x="302.30" y="151.66" font-size="11.5" text-anchor="end" >4</text>
<text x="302.30" y="117.38" font-size="11.5" text-anchor="end" >6</text>
<text x="302.30" y="83.11" font-size="11.5" text-anchor="end" >8</text>
<text x="302.30" y="48.84" font-size="11.5" text-anchor="end" >10</text>
<text x="308.83" y="230.00" font-size="11.5" text-anchor="middle" >0</text>
<text x="347.41" y="230.00" font-size="11.5" text-anchor="middle" >20</text>
<text x="385.99" y="230.00" font-size="11.5" text-anchor="middle" >40</text>
<text x="424.57" y="230.00" font-size="11.5" text-anchor="middle" >60</text>
<text x="463.15" y="230.00" font-size="11.5" text-anchor="middle" >80</text>
<text x="501.73" y="230.00" font-size="11.5" text-anchor="middle" >100</text>
<text x="540.31" y="230.00" font-size="11.5" text-anchor="middle" >120</text>
<text x="429.60" y="242.40" font-size="15.6" text-anchor="middle" >Time(s)</text>
<text x="0" y="0" font-size="16" text-anchor="middle" transform="translate(290.0,121.9) rotate(-90)">Current(μA)</text>
<text x="292.50" y="21.60" font-size="18" text-anchor="middle" letter-spacing="0.6">(B)</text>
<path d="M476.3,38.90 H500" stroke="#3a3a3a" stroke-width="1.3"/>
<text x="503.80" y="42.50" font-size="10.5" text-anchor="start" >PBS</text>
<path d="M476.3,52.07 H500" stroke="#ff3030" stroke-width="1.3"/>
<text x="503.80" y="55.67" font-size="10.5" text-anchor="start" >1nM</text>
<path d="M476.3,65.24 H500" stroke="#1a78f0" stroke-width="1.3"/>
<text x="503.80" y="68.84" font-size="10.5" text-anchor="start" >10nM</text>
<path d="M476.3,78.41 H500" stroke="#17b27a" stroke-width="1.3"/>
<text x="503.80" y="82.01" font-size="10.5" text-anchor="start" >100nM</text>
<path d="M476.3,91.58 H500" stroke="#c27ff0" stroke-width="1.3"/>
<text x="503.80" y="95.18" font-size="10.5" text-anchor="start" >1μM</text>
<rect x="347.9" y="41.9" width="122.40" height="98.50" fill="none" stroke="#111" stroke-width="1.3"/>
<path d="M347.9,136.80 h2.3 M347.9,128.90 h3.3 M347.9,121.00 h2.3 M347.9,113.10 h3.3 M347.9,105.20 h2.3 M347.9,97.30 h3.3 M347.9,89.40 h2.3 M347.9,81.50 h3.3 M347.9,73.60 h2.3 M347.9,65.70 h3.3 M347.9,57.80 h2.3 M347.9,49.90 h3.3 M360.20,140.4 v-2.2 M384.75,140.4 v-2.2 M409.30,140.4 v-2.2 M433.85,140.4 v-2.2 M458.40,140.4 v-2.2" stroke="#111" stroke-width="1.1" fill="none"/>
<text x="345.00" y="131.00" font-size="6" text-anchor="end" >4</text>
<text x="345.00" y="115.20" font-size="6" text-anchor="end" >6</text>
<text x="345.00" y="99.40" font-size="6" text-anchor="end" >8</text>
<text x="345.00" y="83.60" font-size="6" text-anchor="end" >10</text>
<text x="345.00" y="67.80" font-size="6" text-anchor="end" >12</text>
<text x="345.00" y="52.00" font-size="6" text-anchor="end" >14</text>
<text x="360.20" y="147.80" font-size="6.3" text-anchor="middle" >PBS</text>
<text x="384.75" y="147.80" font-size="6.3" text-anchor="middle" >1nM</text>
<text x="409.30" y="147.80" font-size="6.3" text-anchor="middle" >10nM</text>
<text x="433.85" y="147.80" font-size="6.3" text-anchor="middle" >100nM</text>
<text x="458.40" y="147.80" font-size="6.3" text-anchor="middle" >1μM</text>
<text x="0" y="0" font-size="8.2" text-anchor="middle" transform="translate(337.4,88.8) rotate(-90)">ΔI <tspan dx="2.4">(μA)</tspan></text>
<polyline points="360.20,87.82 384.75,87.03 409.30,81.50 433.85,86.64 458.40,87.03" fill="none" stroke="#ff0a0a" stroke-width="1.5"/>
<circle cx="360.20" cy="87.82" r="2.1" fill="#ff3030" stroke="#ff0a0a" stroke-width="0.8"/>
<circle cx="384.75" cy="87.03" r="2.1" fill="#ff3030" stroke="#ff0a0a" stroke-width="0.8"/>
<circle cx="409.30" cy="81.50" r="2.1" fill="#ff3030" stroke="#ff0a0a" stroke-width="0.8"/>
<circle cx="433.85" cy="86.64" r="2.1" fill="#ff3030" stroke="#ff0a0a" stroke-width="0.8"/>
<circle cx="458.40" cy="87.03" r="2.1" fill="#ff3030" stroke="#ff0a0a" stroke-width="0.8"/>
<path d="M426.6,51.5 H441.9" stroke="#ff0a0a" stroke-width="1.5"/>
<circle cx="434.3" cy="51.5" r="2.1" fill="#ff3030" stroke="#ff0a0a" stroke-width="0.8"/>
<text x="443.60" y="53.70" font-size="6.4" text-anchor="start" >Current</text>
</svg>
</body></html>
